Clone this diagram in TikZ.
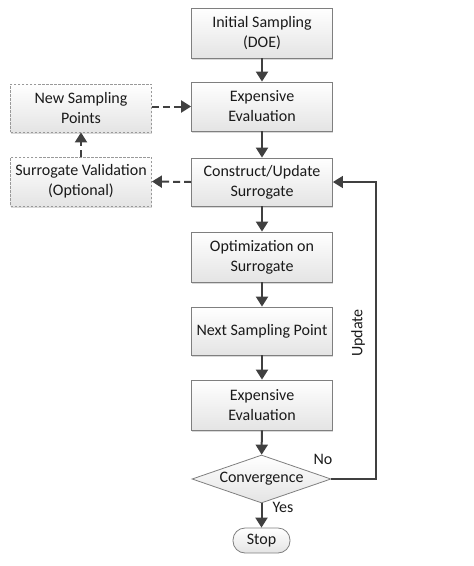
\documentclass[tikz,border=0pt]{standalone}
\usepackage{fontspec}
\setmainfont{Carlito}
\usetikzlibrary{positioning, arrows.meta, shapes.geometric, shadows}

\begin{document}
\begin{tikzpicture}[x=1pt, y=-1pt,
    % Estilos de nodos
    step box/.style={
        rectangle, draw=boxline, top color=white, bottom color=boxfill,
        minimum width=141pt, minimum height=#1,
        font=\fontsize{16}{20}\selectfont, text=txtdark, align=center,
        line width=0.8pt,
        drop shadow={shadow xshift=0.8pt, shadow yshift=-1.6pt, fill=black!25, opacity=0.6}
    },
    step box/.default=49pt,
    opt box/.style={
        step box=#1, draw=boxline!80, dashed, dash pattern=on 2.5pt off 1.5pt
    },
    opt box/.default=48pt,
    decision/.style={
        diamond, draw=boxline, top color=white, bottom color=boxfill,
        minimum width=139pt, minimum height=48pt, aspect=2.9, inner sep=0pt,
        font=\fontsize{16}{20}\selectfont, text=txtdark, line width=0.8pt
    },
    terminal/.style={
        rectangle, rounded corners=12pt, draw=boxline, top color=white, bottom color=boxfill,
        minimum width=57pt, minimum height=25pt, inner sep=2pt,
        font=\fontsize{16}{20}\selectfont, text=txtdark, line width=0.8pt
    },
    flow label/.style={
        font=\fontsize{16}{20}\selectfont, text=txtdark
    },
    arrow/.style={
        -{Triangle[length=10pt, width=12pt]}, line width=2pt, color=arrowgray
    },
    dash arrow/.style={
        arrow, dash pattern=on 7pt off 4pt
    }
]

% ── Definir colores ──
\definecolor{boxline}{HTML}{7F7F7F}
\definecolor{boxfill}{HTML}{E4E4E4}
\definecolor{txtdark}{HTML}{1A1A1A}
\definecolor{arrowgray}{HTML}{404040}

\useasboundingbox (0,0) rectangle (474,566);

% ════════════════════════════════════════
% Columna principal
% ════════════════════════════════════════
\node[step box=50pt] (init)   at (262, 33)    {Initial Sampling\\(DOE)};
\node[step box]      (eval1)  at (262, 106.5) {Expensive\\Evaluation};
\node[step box=48pt] (constr) at (262, 182)   {Construct/Update\\Surrogate};
\node[step box=50pt] (optim)  at (262, 257)   {Optimization on\\Surrogate};
\node[step box=48pt] (nextpt) at (262, 331)   {Next Sampling Point};
\node[step box=50pt] (eval2)  at (262, 405)   {Expensive\\Evaluation};
\node[decision]      (conv)   at (261.5, 479) {Convergence};
\node[terminal]      (stop)   at (261.5, 540.5) {Stop};

% ════════════════════════════════════════
% Columna izquierda (opcional)
% ════════════════════════════════════════
\node[opt box]      (newpts) at (81, 108)   {New Sampling\\Points};
\node[opt box=49pt] (valid)  at (81, 181.5) {Surrogate Validation\\(Optional)};

% ════════════════════════════════════════
% FLECHAS principales
% ════════════════════════════════════════
\draw[arrow] (init)   -- (eval1);
\draw[arrow] (eval1)  -- (constr);
\draw[arrow] (constr) -- (optim);
\draw[arrow] (optim)  -- (nextpt);
\draw[arrow] (nextpt) -- (eval2);
\draw[arrow] (eval2)  -- (conv);
\draw[arrow] (conv)   -- (stop);

% Bucle de actualización
\coordinate (fb) at (376, 479);
\draw[arrow, line width=1.6pt] (conv.east) -- (fb) |- (constr.east);

% ════════════════════════════════════════
% FLECHAS punteadas
% ════════════════════════════════════════
\draw[dash arrow] (constr.west) -- (valid.east);
\draw[dash arrow] (valid.north) -- (newpts.south);
\draw[dash arrow] (newpts.east |- eval1.west) -- (eval1.west);

% ════════════════════════════════════════
% ETIQUETAS
% ════════════════════════════════════════
\node[flow label, rotate=90] (lblupdate) at (358, 333) {Update};
\node[flow label]            (lblno)     at (323, 459) {No};
\node[flow label]            (lblyes)    at (283, 507) {Yes};

\end{tikzpicture}
\end{document}
